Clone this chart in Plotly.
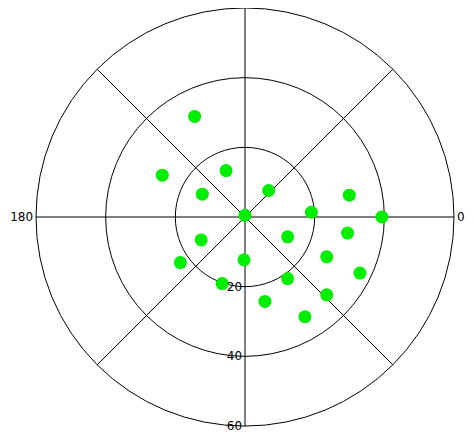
import plotly.graph_objects as go

r_vals = [32.3, 26.6, 14.4, 13.9, 10.2, 0.5, 19.1, 30.6, 39.3, 29.8, 13.5,
          14.2, 22.7, 12.3, 26.1, 36.7, 20.2, 21.5, 32.4, 24.9, 33.4]
theta_vals = [116.6, 153.2, 112.2, 151.9, 48.2, 90, 4.1, 11.8, 0, 351.1, 335,
              207.6, 215.2, 268.7, 334, 334, 251.1, 304.7, 316.4, 283.3, 301]

angle_ticks = [0, 45, 90, 135, 180, 225, 270, 315]
angle_text = ["0", "", "", "", "180", "", "", ""]
radial_ticks = [20, 40, 60]

fig = go.Figure(go.Scatterpolar(
    r=r_vals, theta=theta_vals, mode="markers",
    marker=dict(color="#00ee00", size=13),
))
fig.update_layout(
    width=474, height=440,
    margin=dict(l=0, r=0, t=0, b=0),
    paper_bgcolor="white",
    showlegend=False,
    font=dict(family="DejaVu Sans", size=12, color="black"),
    polar=dict(
        domain=dict(x=[0.03, 0.97], y=[0.05, 1.0]),
        bgcolor="white",
        radialaxis=dict(range=[0, 60], tickvals=radial_ticks, angle=270,
                        tickangle=-90, showline=False, gridcolor="black",
                        ticks=""),
        angularaxis=dict(tickvals=angle_ticks, ticktext=angle_text,
                         gridcolor="black", linecolor="black", ticks="",
                         direction="counterclockwise", rotation=0),
    ),
)
fig.write_html("out.html")
